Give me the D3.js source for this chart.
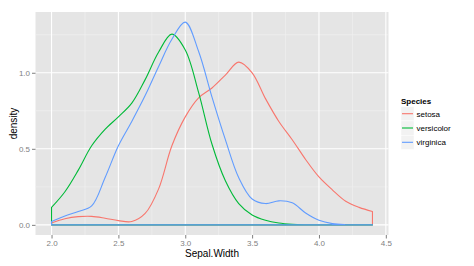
<!DOCTYPE html>
<html>
<head>
<meta charset="utf-8">
<script src="https://cdn.jsdelivr.net/npm/d3@7"></script>
<style>
  body { margin: 0; background: #fff; }
  svg { display: block; font-family: "Liberation Sans", Arial, sans-serif; }
</style>
</head>
<body>
<div id="chart"></div>
<script>
// values
const sepalWidth = [2.0, 2.1, 2.2, 2.3, 2.4, 2.5, 2.6, 2.7, 2.8, 2.9, 3.0, 3.1, 3.2,
                    3.3, 3.4, 3.5, 3.6, 3.7, 3.8, 3.9, 4.0, 4.1, 4.2, 4.3, 4.4];
const setosa = [0.012, 0.04, 0.054, 0.056, 0.044, 0.028, 0.022, 0.075, 0.235, 0.52, 0.71, 0.835, 0.9,
                0.985, 1.07, 1.0, 0.83, 0.68, 0.56, 0.43, 0.315, 0.23, 0.155, 0.115, 0.088];
const versicolor = [0.115, 0.218, 0.36, 0.52, 0.628, 0.71, 0.80, 0.955, 1.135, 1.254, 1.15, 0.87, 0.53,
                    0.29, 0.14, 0.065, 0.03, 0.012, 0.004, 0.001, 0, 0, 0, 0, 0];
const virginica = [0.022, 0.058, 0.088, 0.125, 0.31, 0.52, 0.68, 0.85, 1.04, 1.22, 1.333, 1.14, 0.84,
                   0.56, 0.31, 0.17, 0.14, 0.158, 0.145, 0.078, 0.03, 0.008, 0.001, 0, 0];
const species = ["setosa", "versicolor", "virginica"];
const xTicks = [2.0, 2.5, 3.0, 3.5, 4.0, 4.5];
const yTicks = [0, 0.5, 1.0];

const colors = ["#F8766D", "#00BA38", "#619CFF"];
const series = [setosa, versicolor, virginica];

const width = 474, height = 266;
const panel = { left: 35.5, right: 388.5, top: 12, bottom: 235 };

const svg = d3.select("#chart").append("svg")
    .attr("width", width)
    .attr("height", height);

// ggplot style expansion of 5%
const xExt = d3.extent(sepalWidth);
const xPad = (xExt[1] - xExt[0]) * 0.05;
const yMax = d3.max(series, s => d3.max(s));
const yPad = yMax * 0.05;

const x = d3.scaleLinear()
    .domain([xExt[0] - xPad, xExt[1] + xPad])
    .range([panel.left, panel.right]);

const y = d3.scaleLinear()
    .domain([-yPad, yMax + yPad])
    .range([panel.bottom, panel.top]);

// panel background
svg.append("rect")
    .attr("x", panel.left)
    .attr("y", panel.top)
    .attr("width", panel.right - panel.left)
    .attr("height", panel.bottom - panel.top)
    .attr("fill", "#E5E5E5");

// minor grid
const xMinor = [2.25, 2.75, 3.25, 3.75, 4.25];
const yMinor = [0.25, 0.75, 1.25];
svg.append("g").selectAll("line")
    .data(xMinor)
    .join("line")
    .attr("x1", d => x(d)).attr("x2", d => x(d))
    .attr("y1", panel.top).attr("y2", panel.bottom)
    .attr("stroke", "#F2F2F2").attr("stroke-width", 0.6);
svg.append("g").selectAll("line")
    .data(yMinor)
    .join("line")
    .attr("x1", panel.left).attr("x2", panel.right)
    .attr("y1", d => y(d)).attr("y2", d => y(d))
    .attr("stroke", "#F2F2F2").attr("stroke-width", 0.6);

// major grid
svg.append("g").selectAll("line")
    .data(xTicks)
    .join("line")
    .attr("x1", d => x(d)).attr("x2", d => x(d))
    .attr("y1", panel.top).attr("y2", panel.bottom)
    .attr("stroke", "#fff").attr("stroke-width", 1.1);
svg.append("g").selectAll("line")
    .data(yTicks)
    .join("line")
    .attr("x1", panel.left).attr("x2", panel.right)
    .attr("y1", d => y(d)).attr("y2", d => y(d))
    .attr("stroke", "#fff").attr("stroke-width", 1.1);

// density outlines (polygon closed along zero, like geom_density)
const area = d3.area()
    .x((d, i) => x(sepalWidth[i]))
    .y0(y(0))
    .y1(d => y(d))
    .curve(d3.curveCatmullRom);

svg.append("g").selectAll("path")
    .data(series)
    .join("path")
    .attr("d", d => area(d))
    .attr("fill", "none")
    .attr("stroke", (d, i) => colors[i])
    .attr("stroke-width", 1.1)
    .attr("stroke-linejoin", "round");

// axes
const xAxis = d3.axisBottom(x)
    .tickValues(xTicks)
    .tickFormat(d3.format(".1f"))
    .tickSize(3.5)
    .tickPadding(2);
const gx = svg.append("g")
    .attr("transform", `translate(0,${panel.bottom})`)
    .call(xAxis);
gx.select(".domain").remove();
gx.selectAll("line").attr("stroke", "#7F7F7F");
gx.selectAll("text").attr("fill", "#7F7F7F").style("font-size", "8px");

const yAxis = d3.axisLeft(y)
    .tickValues(yTicks)
    .tickFormat(d3.format(".1f"))
    .tickSize(3.5)
    .tickPadding(2);
const gy = svg.append("g")
    .attr("transform", `translate(${panel.left},0)`)
    .call(yAxis);
gy.select(".domain").remove();
gy.selectAll("line").attr("stroke", "#7F7F7F");
gy.selectAll("text").attr("fill", "#7F7F7F").style("font-size", "8px");

// axis titles
svg.append("text")
    .attr("x", (panel.left + panel.right) / 2)
    .attr("y", 257)
    .attr("text-anchor", "middle")
    .style("font-size", "10px")
    .text("Sepal.Width");

svg.append("text")
    .attr("transform", `translate(17,${(panel.top + panel.bottom) / 2}) rotate(-90)`)
    .attr("text-anchor", "middle")
    .style("font-size", "10px")
    .text("density");

// legend
const legend = svg.append("g").attr("transform", "translate(401,0)");
legend.append("text")
    .attr("x", 0)
    .attr("y", 103.5)
    .style("font-size", "8px")
    .style("font-weight", "bold")
    .text("Species");

const keys = legend.selectAll("g.key")
    .data(species)
    .join("g")
    .attr("class", "key")
    .attr("transform", (d, i) => `translate(0,${113.7 + i * 14.3})`);
keys.append("rect")
    .attr("x", 0).attr("y", -7.1)
    .attr("width", 13).attr("height", 14.3)
    .attr("fill", "#F2F2F2")
    .attr("stroke", "#fff").attr("stroke-width", 0.5);
keys.append("line")
    .attr("x1", 1).attr("x2", 12)
    .attr("y1", 0).attr("y2", 0)
    .attr("stroke", (d, i) => colors[i])
    .attr("stroke-width", 1.1);
keys.append("text")
    .attr("x", 15.5)
    .attr("y", 0)
    .attr("dy", "0.35em")
    .style("font-size", "8px")
    .text(d => d);
</script>
</body>
</html>
